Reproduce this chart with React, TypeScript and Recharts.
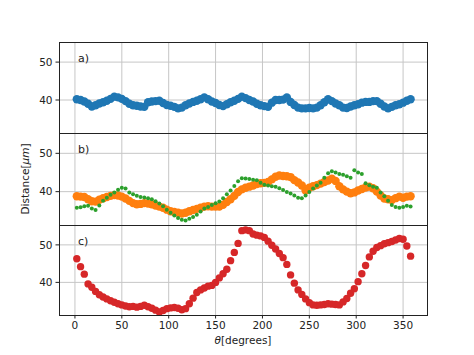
import React from "react";
import { ScatterChart, Scatter, XAxis, YAxis, CartesianGrid } from "recharts";

const theta = [
  2, 6, 10, 14, 18, 22, 26, 30, 34, 38,
  42, 46, 50, 54, 58, 62, 66, 70, 74, 78,
  82, 86, 90, 94, 98, 102, 106, 110, 114, 118,
  122, 126, 130, 134, 138, 142, 146, 150, 154, 158,
  162, 166, 170, 174, 178, 182, 186, 190, 194, 198,
  202, 206, 210, 214, 218, 222, 226, 230, 234, 238,
  242, 246, 250, 254, 258, 262, 266, 270, 274, 278,
  282, 286, 290, 294, 298, 302, 306, 310, 314, 318,
  322, 326, 330, 334, 338, 342, 346, 350, 354, 358,
];

const seriesA = [
  40.2, 40.0, 39.6, 39.0, 38.3, 38.6, 39.1, 39.4, 39.8, 40.3,
  40.9, 40.7, 40.3, 39.7, 39.0, 38.6, 38.5, 38.3, 38.2, 39.4,
  39.6, 39.7, 39.8, 39.2, 38.7, 38.5, 38.2, 37.8, 38.0, 38.6,
  39.1, 39.5, 39.8, 40.2, 40.7, 40.2, 39.6, 39.2, 38.7, 38.4,
  38.9, 39.4, 39.8, 40.3, 40.9, 40.5, 40.0, 39.6, 39.0, 38.6,
  38.4, 38.2, 39.3, 40.0, 40.0, 40.1, 40.7, 39.5, 38.7, 38.0,
  37.8, 37.8, 37.9, 37.8, 38.0, 38.6, 39.4, 40.2, 39.7, 39.1,
  38.6, 38.0, 37.9, 38.3, 38.6, 38.9, 39.3, 39.5, 39.5, 39.7,
  39.7, 39.0, 38.3, 37.8, 38.2, 38.6, 38.9, 39.3, 39.8, 40.2,
];

const seriesBOrange = [
  38.8, 38.7, 38.6, 38.0, 37.5, 37.4, 37.9, 38.3, 38.6, 38.9,
  39.1, 39.0, 38.7, 38.2, 37.6, 37.0, 36.7, 36.8, 37.0, 36.9,
  36.7, 36.4, 36.1, 35.8, 35.3, 34.9, 34.7, 34.5, 34.3, 34.5,
  34.9, 35.2, 35.5, 35.8, 36.1, 36.2, 36.1, 36.1, 36.1, 36.6,
  37.3, 38.0, 38.9, 39.9, 40.6, 41.0, 41.3, 41.6, 42.0, 42.2,
  42.3, 42.5, 43.2, 43.9, 44.2, 44.1, 44.0, 43.8, 43.0, 42.4,
  41.6, 40.3, 41.0, 41.4, 41.7, 42.1, 42.5, 42.9, 43.4, 42.8,
  41.4, 40.6, 40.0, 39.6, 39.8, 40.3, 40.7, 41.1, 41.3, 40.9,
  40.0, 39.0, 38.2, 38.0, 37.8, 38.3, 38.7, 38.4, 38.7, 38.8,
];

const seriesBGreen = [
  35.8, 35.9, 36.2, 36.3, 35.6, 35.2, 36.4, 37.6, 38.4, 39.2,
  39.8, 40.5, 41.0, 40.8, 39.8, 39.3, 38.9, 38.6, 38.5, 38.3,
  38.0, 37.5, 36.9, 36.2, 35.3, 34.5, 33.8, 33.1, 32.7, 32.5,
  32.9, 33.4, 34.0, 34.8, 35.6, 36.0, 36.5, 37.0, 37.4, 38.3,
  39.3, 40.3, 41.5, 42.7, 43.5, 43.4, 43.3, 43.1, 43.0, 42.3,
  41.8, 41.6, 41.4, 41.3, 40.9, 40.4, 39.9, 39.5, 39.0, 38.4,
  38.3, 39.0, 39.9, 40.8, 41.6, 42.3, 43.6, 44.8, 45.3, 45.0,
  44.6, 44.4, 44.0, 43.6, 45.6, 45.0, 44.6, 42.2, 41.7, 41.3,
  41.0, 39.8, 38.8, 37.6, 36.5, 36.0, 35.8, 36.0, 36.3, 36.1,
];

const seriesC = [
  46.3, 44.2, 42.2, 39.6, 38.7, 37.6, 36.7, 36.1, 35.6, 35.1,
  34.7, 34.3, 34.0, 33.7, 33.5, 33.6, 33.4, 33.6, 33.9, 33.5,
  33.1, 32.6, 32.1, 32.5, 33.0, 33.2, 33.3, 33.1, 32.7, 33.0,
  34.3, 35.8, 37.3, 38.0, 38.5, 39.0, 39.2, 40.0, 41.2, 42.3,
  43.5, 45.8, 48.0, 50.4, 53.8, 54.0, 53.8, 52.9, 52.6, 52.4,
  52.0, 51.0, 49.9, 48.9, 47.7, 46.6, 44.8, 42.0, 39.8, 38.0,
  36.8, 35.6, 34.6, 34.0, 33.9, 34.0, 34.1, 34.3, 34.2, 34.1,
  34.0, 34.8, 35.7, 37.1, 38.3, 40.2, 42.3, 44.5, 46.8, 48.3,
  49.3, 49.8, 50.3, 50.6, 50.9, 51.3, 51.7, 51.5, 49.7, 47.0,
];

const xTicks = [0, 50, 100, 150, 200, 250, 300, 350];
const yTicks = [40, 50];
const panelLetters = ["a)", "b)", "c)"];

const xDomain: [number, number] = [-17, 375.5];
const yDomain: [number, number] = [31.3, 55.3];

const FONT = "DejaVu Sans, sans-serif";
const W = 474;
const PLOT_LEFT = 59;
const PLOT_RIGHT = 427;

const toPoints = (vals: number[]) => theta.map((x, i) => ({ x, y: vals[i] }));

const dot = (r: number, fill: string) => (props: any) =>
  props.cx == null ? <g /> : <circle cx={props.cx} cy={props.cy} r={r} fill={fill} />;

type Series = { values: number[]; color: string; r: number };

function Panel({
  top,
  height,
  marginTop,
  series,
  showX,
  yLabel,
}: {
  top: number;
  height: number;
  marginTop: number;
  series: Series[];
  showX: boolean;
  yLabel: boolean;
}) {
  return (
    <div style={{ position: "absolute", left: 0, top, width: W, height }}>
      <ScatterChart
        width={W}
        height={height}
        margin={{ top: marginTop, right: W - PLOT_RIGHT, bottom: 0, left: 0 }}
      >
        <CartesianGrid
          stroke="#c6c6c6"
          strokeWidth={1}
          horizontalValues={yTicks}
          verticalValues={xTicks}
        />
        {showX ? (
          <XAxis
            type="number"
            dataKey="x"
            domain={xDomain}
            ticks={xTicks}
            allowDataOverflow
            height={40}
            tickSize={3.5}
            tickMargin={3}
            axisLine={false}
            tickLine={{ stroke: "#222" }}
            tick={{ fill: "#222", fontSize: 10.5, fontFamily: FONT }}
            label={{
              content: (p: any) => {
                const vb = p.viewBox || {};
                const cx = (vb.x ?? PLOT_LEFT) + (vb.width ?? PLOT_RIGHT - PLOT_LEFT) / 2;
                return (
                  <text x={cx} y={height - 11} textAnchor="middle" fontSize={10.5} fontFamily={FONT} fill="#222">
                    <tspan fontStyle="italic">θ</tspan>
                    <tspan>[degrees]</tspan>
                  </text>
                );
              },
            }}
          />
        ) : (
          <XAxis type="number" dataKey="x" domain={xDomain} ticks={xTicks} allowDataOverflow hide />
        )}
        <YAxis
          type="number"
          dataKey="y"
          domain={yDomain}
          ticks={yTicks}
          allowDataOverflow
          width={PLOT_LEFT}
          tickSize={3.5}
          tickMargin={3}
          axisLine={false}
          tickLine={{ stroke: "#222" }}
          tick={{ fill: "#222", fontSize: 10.5, fontFamily: FONT }}
          label={
            yLabel
              ? {
                  content: (p: any) => {
                    const vb = p.viewBox || {};
                    const cy = (vb.y ?? 0) + (vb.height ?? height) / 2;
                    return (
                      <text
                        x={25}
                        y={cy}
                        textAnchor="middle"
                        dominantBaseline="central"
                        fontSize={10.5}
                        fontFamily={FONT}
                        fill="#222"
                        transform={`rotate(-90 25 ${cy})`}
                      >
                        <tspan>Distance[</tspan>
                        <tspan fontStyle="italic">μm</tspan>
                        <tspan>]</tspan>
                      </text>
                    );
                  },
                }
              : undefined
          }
        />
        {series.map((s, i) => (
          <Scatter
            key={i}
            data={toPoints(s.values)}
            fill={s.color}
            shape={dot(s.r, s.color)}
            isAnimationActive={false}
          />
        ))}
      </ScatterChart>
    </div>
  );
}

export default function App() {
  const frameTop = 42;
  const ab = 133;
  const bc = 225;
  const frameBottom = 315;
  const letterTops = [frameTop, ab, bc];
  return (
    <div style={{ position: "absolute", left: 0, top: 0, width: W, height: 355, background: "#fff", fontFamily: FONT }}>
      <Panel
        top={0}
        height={ab}
        marginTop={frameTop}
        series={[{ values: seriesA, color: "#1f77b4", r: 4.2 }]}
        showX={false}
        yLabel={false}
      />
      <Panel
        top={ab}
        height={bc - ab}
        marginTop={0}
        series={[
          { values: seriesBOrange, color: "#ff7f0e", r: 4.2 },
          { values: seriesBGreen, color: "#2ca02c", r: 2 },
        ]}
        showX={false}
        yLabel={true}
      />
      <Panel
        top={bc}
        height={355 - bc}
        marginTop={0}
        series={[{ values: seriesC, color: "#d62728", r: 3.7 }]}
        showX={true}
        yLabel={false}
      />
      <svg
        width={W}
        height={355}
        style={{ position: "absolute", left: 0, top: 0, pointerEvents: "none" }}
      >
        <rect
          x={PLOT_LEFT + 0.5}
          y={frameTop + 0.5}
          width={PLOT_RIGHT - PLOT_LEFT}
          height={frameBottom - frameTop}
          fill="none"
          stroke="#222"
          strokeWidth={1}
        />
        <line x1={PLOT_LEFT} x2={PLOT_RIGHT} y1={ab + 0.5} y2={ab + 0.5} stroke="#222" strokeWidth={1} />
        <line x1={PLOT_LEFT} x2={PLOT_RIGHT} y1={bc + 0.5} y2={bc + 0.5} stroke="#222" strokeWidth={1} />
        {panelLetters.map((t, i) => (
          <text key={t} x={78} y={letterTops[i] + 20} fontSize={11} fontFamily={FONT} fill="#222">
            {t}
          </text>
        ))}
      </svg>
    </div>
  );
}
